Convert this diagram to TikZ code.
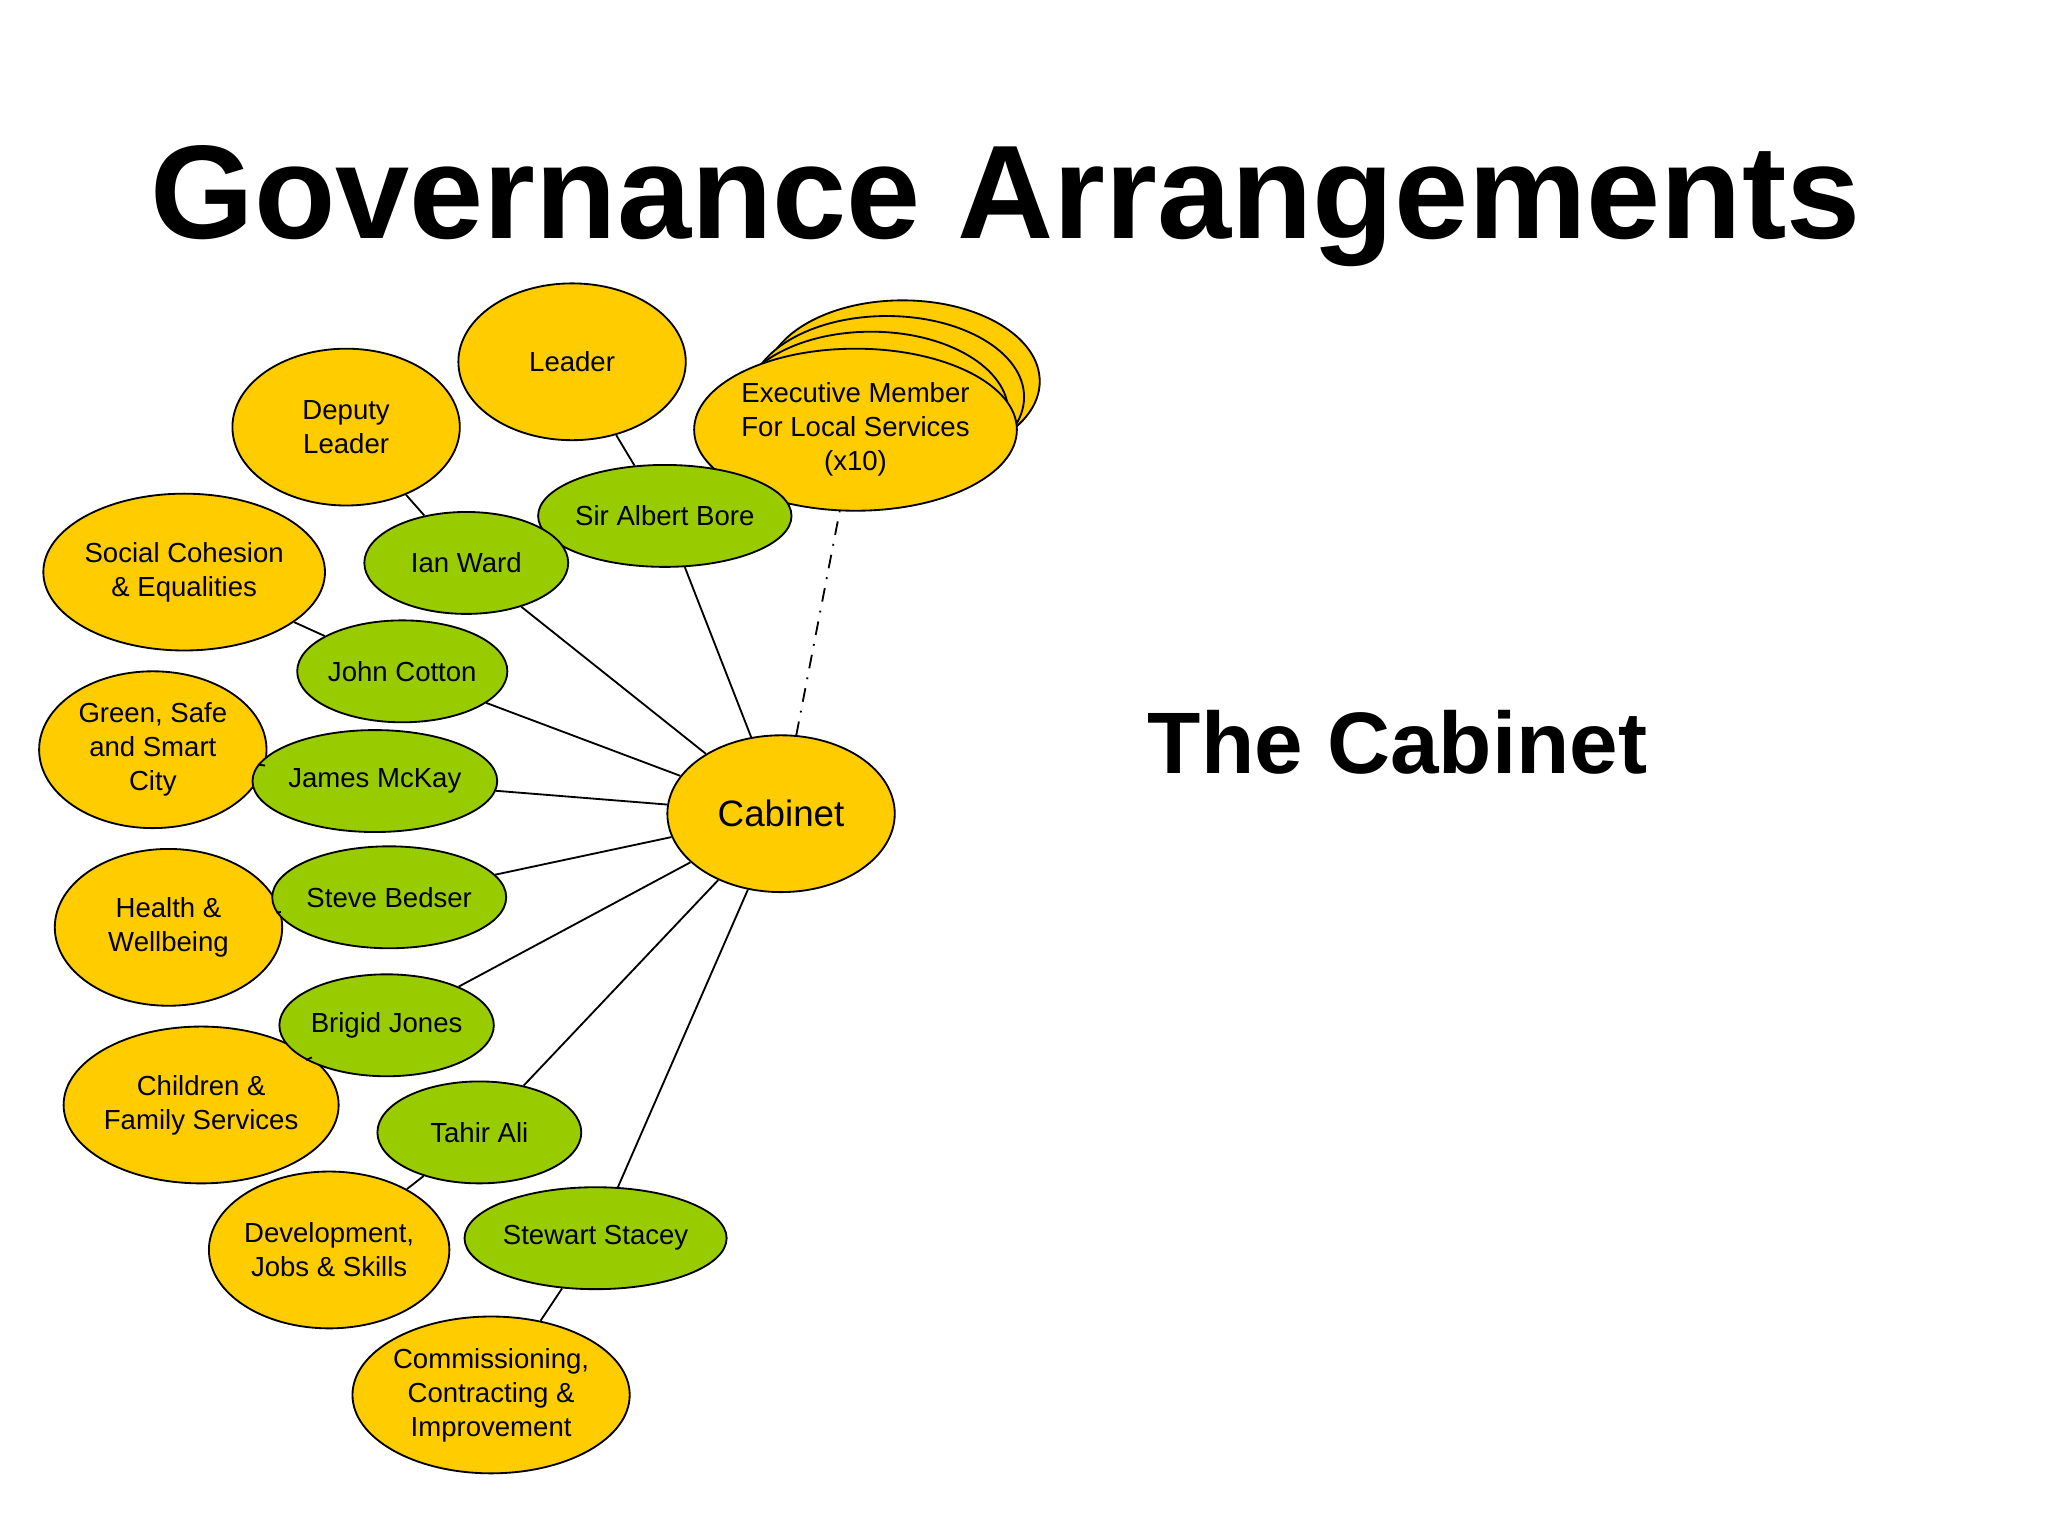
\documentclass[tikz,border=0pt]{standalone}
\usepackage{fontspec}
\setmainfont{Liberation Sans}
\usetikzlibrary{shapes.geometric}
\begin{document}
\begin{tikzpicture}[x=0.01cm,y=-0.01cm,
  orn/.style={ellipse,draw,fill={rgb,255:red,255;green,204;blue,0},minimum width=174\pgflinewidth*0+0.0cm,inner sep=0pt,align=center,font=\fontsize{6}{7.4}\selectfont},
  grn/.style={ellipse,draw,fill={rgb,255:red,153;green,204;blue,0},inner sep=0pt,align=center,font=\fontsize{6}{7.4}\selectfont,minimum width=1.56cm,minimum height=0.78cm},
  big/.style={minimum width=1.74cm,minimum height=1.2cm}]
\useasboundingbox (0,0) rectangle (1568,1176);
\node[font=\fontsize{29}{34}\selectfont\bfseries] (title) at (770,158) {Governance Arrangements};
\node[font=\fontsize{19}{22}\selectfont\bfseries] (tc) at (1070,568) {The Cabinet};
% exec stack
\node[orn,minimum width=2.1cm,minimum height=1.24cm] (e4) at (691,292) {};
\node[orn,minimum width=2.1cm,minimum height=1.24cm] (e3) at (679,304) {};
\node[orn,minimum width=2.1cm,minimum height=1.24cm] (e2) at (667,316) {};
\node[orn,minimum width=2.1cm,minimum height=1.24cm] (ex) at (655,329) {Executive Member\\For Local Services\\(x10)};
\node[orn,big] (lead) at (438,277) {Leader};
\node[orn,big] (dep) at (265,327) {Deputy\\ Leader};
\node[orn,big] (soc) at (141,438) {Social Cohesion\\\& Equalities};
\node[orn,big] (gre) at (117,574) {Green, Safe\\and Smart\\City};
\node[orn,big] (hea) at (129,710) {Health \&\\Wellbeing};
\node[orn,big] (chi) at (154,846) {Children \&\\Family Services};
\node[orn,big] (dev) at (252,957) {Development,\\Jobs \& Skills};
\node[orn,big] (com) at (376,1068) {Commissioning,\\Contracting \&\\Improvement};
\node[grn] (sab) at (509,395) {Sir Albert Bore};
\node[grn] (iw) at (357,431) {Ian Ward};
\node[grn] (jc) at (308,514) {John Cotton};
\node[grn] (jm) at (287,598) {James McKay};
\node[grn] (sb) at (298,687) {Steve Bedser};
\node[grn] (bj) at (296,785) {Brigid Jones};
\node[grn] (ta) at (367,867) {Tahir Ali};
\node[grn] (ss) at (456,948) {Stewart Stacey};
\node[orn,big,font=\fontsize{8}{9}\selectfont] (cab) at (598,623) {Cabinet};
\foreach \g in {sab,iw,jc,jm,sb,bj,ta,ss} \draw (cab) -- (\g);
\draw (sab) -- (lead); \draw (iw) -- (dep); \draw (jc) -- (soc); \draw (jm) -- (gre);
\draw (sb) -- (hea); \draw (bj) -- (chi); \draw (ta) -- (dev); \draw (ss) -- (com);
\draw[dash dot] (cab) -- (ex);
\end{tikzpicture}
\end{document}
